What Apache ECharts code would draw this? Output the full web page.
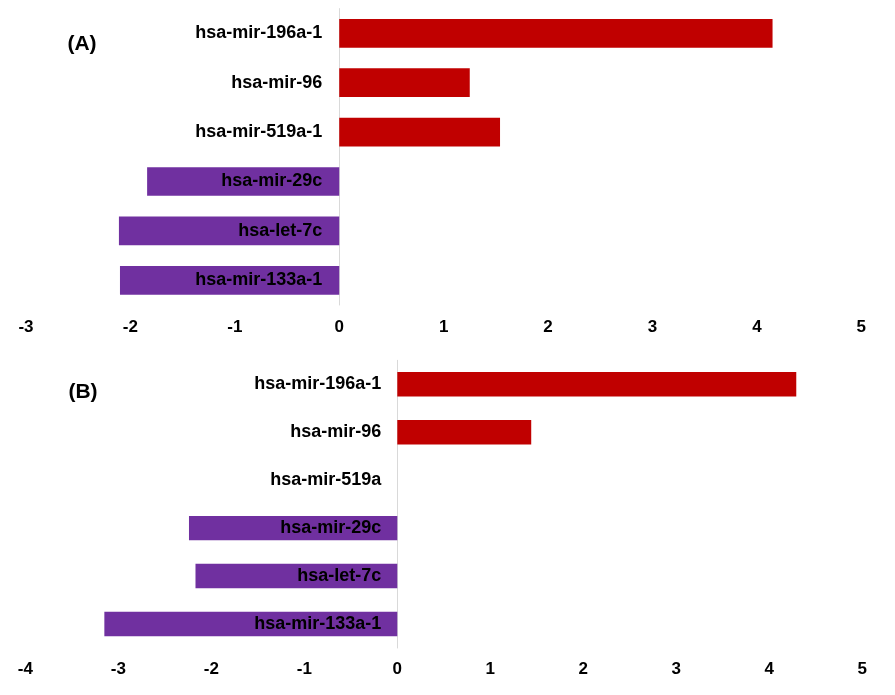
<!DOCTYPE html>
<html>
<head>
<meta charset="utf-8">
<script src="https://cdn.jsdelivr.net/npm/echarts@6/dist/echarts.min.js"></script>
<style>
html,body{margin:0;padding:0;background:#fff;}
#c{width:895px;height:695px;}
</style>
</head>
<body>
<div id="c"></div>
<script>
const categoriesA = ['hsa-mir-196a-1','hsa-mir-96','hsa-mir-519a-1','hsa-mir-29c','hsa-let-7c','hsa-mir-133a-1'];
const valuesA = [4.15, 1.25, 1.54, -1.84, -2.11, -2.10];
const categoriesB = ['hsa-mir-196a-1','hsa-mir-96','hsa-mir-519a','hsa-mir-29c','hsa-let-7c','hsa-mir-133a-1'];
const valuesB = [4.29, 1.44, 0, -2.24, -2.17, -3.15];
const panelLabels = ['(A)','(B)'];

const FONT = '"Liberation Sans", Arial, sans-serif';
const RED = '#C00000', PURPLE = '#7030A0';
const colorFn = p => (p.value >= 0 ? RED : PURPLE);

function xAxisCfg(gi, min, max, margin) {
  return {
    type: 'value', gridIndex: gi, min: min, max: max, interval: 1,
    axisLine: {show: false}, axisTick: {show: false}, splitLine: {show: false},
    axisLabel: {color: '#000', fontFamily: FONT, fontWeight: 'bold', fontSize: 17, margin: margin}
  };
}
function yAxisCfg(gi, cats) {
  return {
    type: 'category', gridIndex: gi, data: cats, inverse: true,
    axisLine: {show: true, onZero: true, lineStyle: {color: '#d9d9d9', width: 1}},
    axisTick: {show: false},
    axisLabel: {show: false}
  };
}
function nameSeries(idx, cats, dist) {
  return {
    type: 'scatter', xAxisIndex: idx, yAxisIndex: idx, z: 10,
    symbolSize: 0, silent: true,
    itemStyle: {opacity: 1},
    data: cats.map((c, i) => [0, i]),
    label: {
      show: true, position: 'left', distance: dist, opacity: 1,
      color: '#000', fontFamily: FONT, fontWeight: 'bold', fontSize: 18,
      formatter: p => cats[p.dataIndex]
    }
  };
}

const chart = echarts.init(document.getElementById('c'), null, {renderer: 'canvas'});
chart.setOption({
  animation: false,
  backgroundColor: '#fff',
  grid: [
    {left: 26, right: 33.7, top: 8.6, height: 296.4, outerBoundsMode: 'none', containLabel: false},
    {left: 25.3, right: 32.7, top: 360.3, height: 287.7, outerBoundsMode: 'none', containLabel: false}
  ],
  xAxis: [xAxisCfg(0, -3, 5, 14), xAxisCfg(1, -4, 5, 13)],
  yAxis: [yAxisCfg(0, categoriesA), yAxisCfg(1, categoriesB)],
  series: [
    {type: 'bar', xAxisIndex: 0, yAxisIndex: 0, data: valuesA, barWidth: '58%', itemStyle: {color: colorFn}},
    {type: 'bar', xAxisIndex: 1, yAxisIndex: 1, data: valuesB, barWidth: '51%', itemStyle: {color: colorFn}},
    nameSeries(0, categoriesA, 17),
    nameSeries(1, categoriesB, 16)
  ],
  graphic: [
    {type: 'text', x: 82, y: 44, style: {text: panelLabels[0], align: 'center', verticalAlign: 'middle', font: 'bold 21px ' + FONT, fill: '#000'}},
    {type: 'text', x: 83, y: 392, style: {text: panelLabels[1], align: 'center', verticalAlign: 'middle', font: 'bold 21px ' + FONT, fill: '#000'}}
  ]
});
</script>
</body>
</html>
